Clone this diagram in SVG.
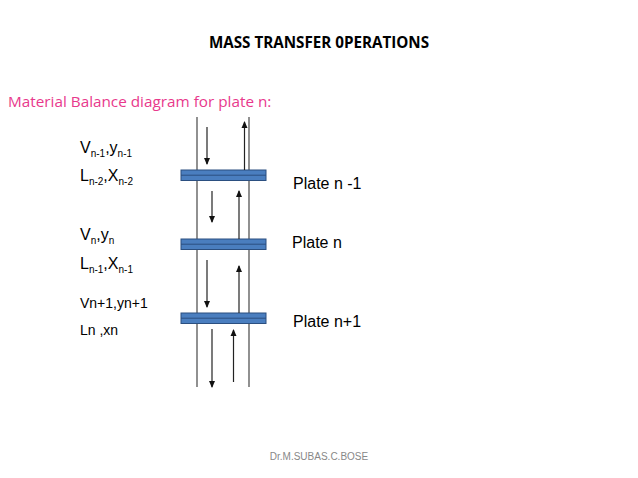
<svg xmlns="http://www.w3.org/2000/svg" width="638" height="478" viewBox="0 0 638 478">
<style>
.t{font-family:"Liberation Sans",Arial,sans-serif;font-size:16px;fill:#000}
.s{font-size:10px}
.plate{fill:#4a7ebf;stroke:#2b4f80;stroke-width:1}
.wall{stroke:#555;stroke-width:1.3}
.ar{stroke:#222;stroke-width:1.2;marker-end:url(#ah)}
</style>
<defs><marker id="ah" markerWidth="8" markerHeight="8" refX="6" refY="4" orient="auto" markerUnits="userSpaceOnUse"><path d="M0,1 L7,4 L0,7z" fill="#111"/></marker></defs>
<rect width="638" height="478" fill="#fff"/>
<text x="319" y="48" text-anchor="middle" style="font-family:'Open Sans','Liberation Sans',sans-serif;font-weight:bold;font-size:15.2px">MASS TRANSFER 0PERATIONS</text>
<text x="8" y="107" style="font-family:'Open Sans','Liberation Sans',sans-serif;font-size:15.3px;fill:#e8398c">Material Balance diagram for plate n:</text>
<g id="labels">
<text class="t" x="80" y="153">V<tspan class="s" dy="4">n-1</tspan><tspan dy="-4">,y</tspan><tspan class="s" dy="4">n-1</tspan></text>
<text class="t" x="80" y="181">L<tspan class="s" dy="4">n-2</tspan><tspan dy="-4">,X</tspan><tspan class="s" dy="4">n-2</tspan></text>
<text class="t" x="80" y="240">V<tspan class="s" dy="4">n</tspan><tspan dy="-4">,y</tspan><tspan class="s" dy="4">n</tspan></text>
<text class="t" x="80" y="269">L<tspan class="s" dy="4">n-1</tspan><tspan dy="-4">,X</tspan><tspan class="s" dy="4">n-1</tspan></text>
<text class="t" x="80" y="308" style="font-size:14px">Vn+1,yn+1</text>
<text class="t" x="80" y="335" style="font-size:14px">Ln ,xn</text>
<text class="t" x="293" y="189">Plate n -1</text>
<text class="t" x="292" y="248">Plate n</text>
<text class="t" x="293" y="327">Plate n+1</text>
<text x="319" y="460" text-anchor="middle" style="font-family:'Liberation Sans',sans-serif;font-size:10px;fill:#888">Dr.M.SUBAS.C.BOSE</text>
</g>
<g id="column">
<line class="wall" x1="197" y1="117" x2="197" y2="387"/>
<line class="wall" x1="249" y1="117" x2="249" y2="387"/>
</g>
<g id="plate1"><rect class="plate" x="181" y="170" width="85" height="10.5"/><line x1="181" y1="175.2" x2="266" y2="175.2" stroke="#2b4f80"/></g>
<g id="plate2"><rect class="plate" x="181" y="239" width="85" height="10.5"/><line x1="181" y1="244.2" x2="266" y2="244.2" stroke="#2b4f80"/></g>
<g id="plate3"><rect class="plate" x="181" y="313" width="85" height="10.5"/><line x1="181" y1="318.2" x2="266" y2="318.2" stroke="#2b4f80"/></g>
<g id="connectors">
<line class="ar" x1="207" y1="127" x2="207" y2="164"/>
<line class="ar" x1="244.5" y1="170" x2="244.5" y2="122"/>
<line class="ar" x1="212" y1="191" x2="212" y2="222"/>
<line class="ar" x1="239" y1="239" x2="239" y2="191"/>
<line class="ar" x1="207" y1="260" x2="207" y2="307"/>
<line class="ar" x1="239" y1="313" x2="239" y2="266"/>
<line class="ar" x1="212" y1="329" x2="212" y2="387"/>
<line class="ar" x1="233.5" y1="382" x2="233.5" y2="330"/>
</g>
</svg>
